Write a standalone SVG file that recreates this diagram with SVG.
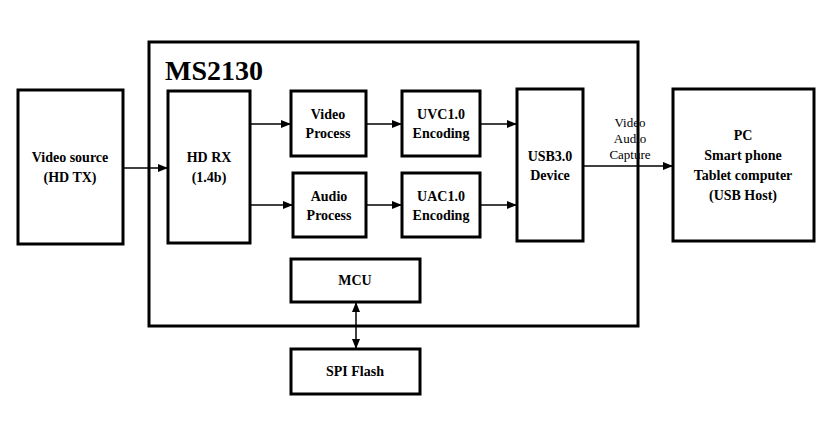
<svg xmlns="http://www.w3.org/2000/svg" width="833" height="429" viewBox="0 0 833 429">
<style>
.b{fill:#fff;stroke:#000;stroke-width:3}
.t{font-family:"Liberation Serif",serif;font-weight:bold;font-size:14px;text-anchor:middle}
.s{font-family:"Liberation Serif",serif;font-size:13px;text-anchor:middle}
.c{stroke:#000;stroke-width:1.5;fill:none}
</style>
<defs><marker id="a" markerWidth="10" markerHeight="8" refX="10" refY="4" orient="auto-start-reverse" markerUnits="userSpaceOnUse"><path d="M0,0L10,4L0,8z"/></marker></defs>
<rect width="833" height="429" fill="#fff"/>
<g id="ms2130"><rect class="b" x="149" y="42" width="489" height="284"/><text x="165" y="80" font-family="Liberation Serif,serif" font-weight="bold" font-size="28">MS2130</text></g>
<g id="src"><rect class="b" x="18" y="90" width="105" height="154"/><text class="t" x="70" y="162">Video source</text><text class="t" x="70" y="182">(HD TX)</text></g>
<g id="hdrx"><rect class="b" x="168" y="91" width="82" height="152"/><text class="t" x="209" y="162">HD RX</text><text class="t" x="209" y="182">(1.4b)</text></g>
<g id="vp"><rect class="b" x="291" y="91" width="75" height="65"/><text class="t" x="328" y="119">Video</text><text class="t" x="328" y="138">Process</text></g>
<g id="ap"><rect class="b" x="293" y="173" width="73" height="64"/><text class="t" x="329" y="201">Audio</text><text class="t" x="329" y="220">Process</text></g>
<g id="uvc"><rect class="b" x="402" y="91" width="78" height="65"/><text class="t" x="441" y="119">UVC1.0</text><text class="t" x="441" y="138">Encoding</text></g>
<g id="uac"><rect class="b" x="402" y="173" width="78" height="64"/><text class="t" x="441" y="201">UAC1.0</text><text class="t" x="441" y="220">Encoding</text></g>
<g id="usb"><rect class="b" x="517" y="89" width="66" height="152"/><text class="t" x="550" y="161">USB3.0</text><text class="t" x="550" y="180">Device</text></g>
<g id="pc"><rect class="b" x="673" y="89" width="141" height="152"/><text class="t" x="743" y="140">PC</text><text class="t" x="743" y="160">Smart phone</text><text class="t" x="743" y="180">Tablet computer</text><text class="t" x="743" y="200">(USB Host)</text></g>
<g id="mcu"><rect class="b" x="291" y="259" width="129" height="43"/><text class="t" x="355" y="285">MCU</text></g>
<g id="spi"><rect class="b" x="291" y="349" width="129" height="45"/><text class="t" x="355" y="376">SPI Flash</text></g>
<g id="conn">
<path class="c" marker-end="url(#a)" d="M123,168H168"/>
<path class="c" marker-end="url(#a)" d="M250,124H291"/>
<path class="c" marker-end="url(#a)" d="M250,205H293"/>
<path class="c" marker-end="url(#a)" d="M366,124H402"/>
<path class="c" marker-end="url(#a)" d="M366,205H402"/>
<path class="c" marker-end="url(#a)" d="M480,124H517"/>
<path class="c" marker-end="url(#a)" d="M480,205H517"/>
<path class="c" marker-end="url(#a)" d="M583,166H673"/>
<path class="c" marker-start="url(#a)" marker-end="url(#a)" d="M356,302V349"/>
<text class="s" x="630" y="127">Video</text><text class="s" x="630" y="143">Audio</text><text class="s" x="630" y="159">Capture</text>
</g>
</svg>
